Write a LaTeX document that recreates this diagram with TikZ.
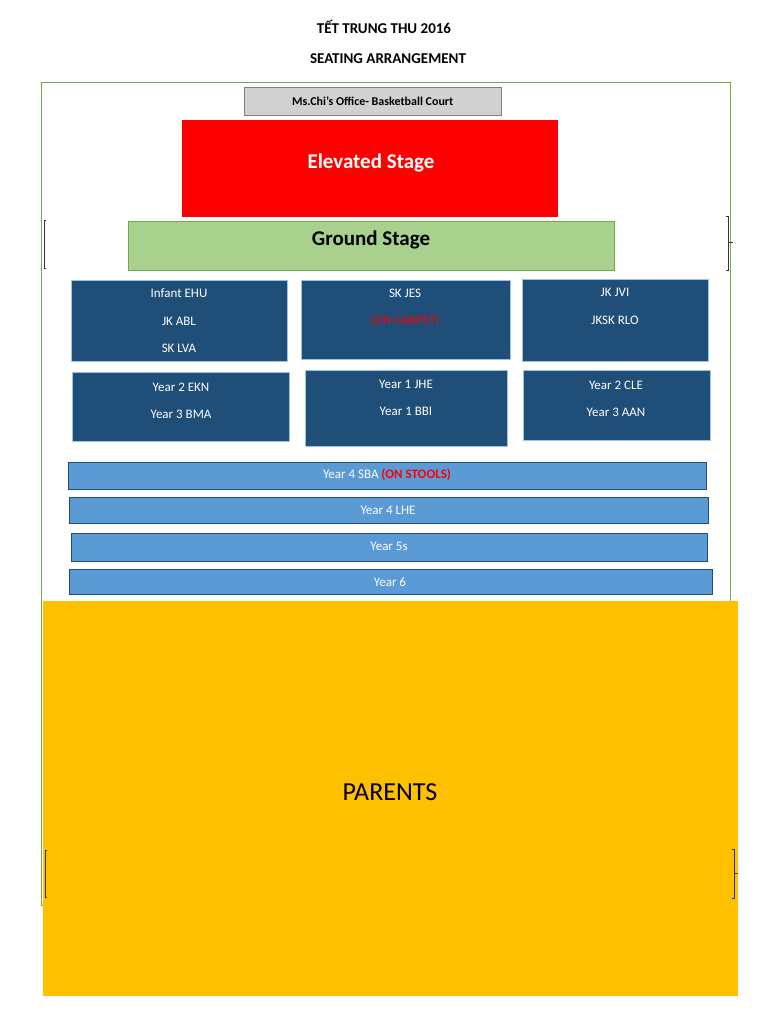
\documentclass[tikz,border=0pt]{standalone}
\usepackage{fontspec}
\setmainfont{Carlito}
\definecolor{dblue}{HTML}{1F4E79}
\definecolor{lblue}{HTML}{5B9BD5}
\definecolor{gfill}{HTML}{A9D18E}
\definecolor{gline}{HTML}{70AD47}
\definecolor{parent}{HTML}{FFC000}
\tikzset{
 dbox/.style={fill=dblue,draw=lblue!60,line width=0.8pt},
 lbox/.style={fill=lblue,draw=dblue,line width=0.8pt},
 wt/.style={text=white,font=\fontsize{13}{15}\selectfont},
 brk/.style={draw=black!80,line width=0.6pt}
}
\begin{document}
\begin{tikzpicture}[x=1pt,y=-1pt]
\useasboundingbox (0,0) rectangle (768,1024);
\node (t1) at (384,27) {\fontsize{15}{17}\selectfont\bfseries TẾT TRUNG THU 2016};
\node (t2) at (388,59) {\fontsize{15}{17}\selectfont\bfseries SEATING ARRANGEMENT};
\draw[gline,line width=0.8pt] (41,82) rectangle (730,905);
\draw[brk] (46,220) -- (44,220) -- (44,268) -- (46,268);
\draw[brk] (726,216) -- (728,216) -- (728,270) -- (726,270);
\draw[brk] (728,242) -- (733,242);
\node[draw=gray,fill=black!18,minimum width=257pt,minimum height=28pt,anchor=north west,inner sep=0] (ms) at (244,87) {};
\node at (ms) {\fontsize{12}{14}\selectfont\bfseries Ms.Chi’s Office- Basketball Court};
\node[fill=red,minimum width=376pt,minimum height=97pt,anchor=north west,inner sep=0] (el) at (182,120) {};
\node[text=white] at (371,163) {\fontsize{21}{24}\selectfont\bfseries Elevated Stage};
\node[fill=gfill,draw=gline,minimum width=486pt,minimum height=49pt,anchor=north west,inner sep=0] (gs) at (128,221) {};
\node at (371,240) {\fontsize{21}{24}\selectfont\bfseries Ground Stage};
\draw[dbox] (71,280) rectangle (287,361);
\draw[dbox] (301,280) rectangle (510,359);
\draw[dbox] (522,279) rectangle (708,361);
\draw[dbox] (72,372) rectangle (289,441);
\draw[dbox] (305,370) rectangle (507,446);
\draw[dbox] (523,370) rectangle (710,440);
\node[wt] (a1) at (179,293) {Infant EHU};
\node[wt] (a2) at (179,321) {JK ABL};
\node[wt] (a3) at (179,348) {SK LVA};
\node[wt] (b1) at (405,293) {SK JES};
\node[text=red,font=\fontsize{13}{15}\selectfont] (b2) at (405,321) {(ON CARPET)};
\node[wt] (c1) at (615,292) {JK JVI};
\node[wt] (c2) at (615,320) {JKSK RLO};
\node[wt] (d1) at (181,387) {Year 2 EKN};
\node[wt] (d2) at (181,414) {Year 3 BMA};
\node[wt] (e1) at (406,384) {Year 1 JHE};
\node[wt] (e2) at (406,411) {Year 1 BBI};
\node[wt] (f1) at (616,385) {Year 2 CLE};
\node[wt] (f2) at (616,412) {Year 3 AAN};
\draw[lbox] (68,462) rectangle (706,489);
\draw[lbox] (69,497) rectangle (708,523);
\draw[lbox] (71,533) rectangle (707,561);
\draw[lbox] (69,569) rectangle (712,594);
\node[wt] (g1) at (387,475) {Year 4 SBA \textcolor{red}{\bfseries(ON STOOLS)}};
\node[wt] (g2) at (388,510) {Year 4 LHE};
\node[wt] (g3) at (389,546) {Year 5s};
\node[wt] (g4) at (390,582) {Year 6};
\fill[parent] (43,601) rectangle (738,996);
\node (p) at (390,792) {\fontsize{26}{30}\selectfont PARENTS};
\draw[brk] (47,850) -- (45,850) -- (45,897) -- (47,897);
\draw[brk] (732,849) -- (734,849) -- (734,898) -- (732,898);
\draw[brk] (734,873) -- (738,873);
\end{tikzpicture}
\end{document}
